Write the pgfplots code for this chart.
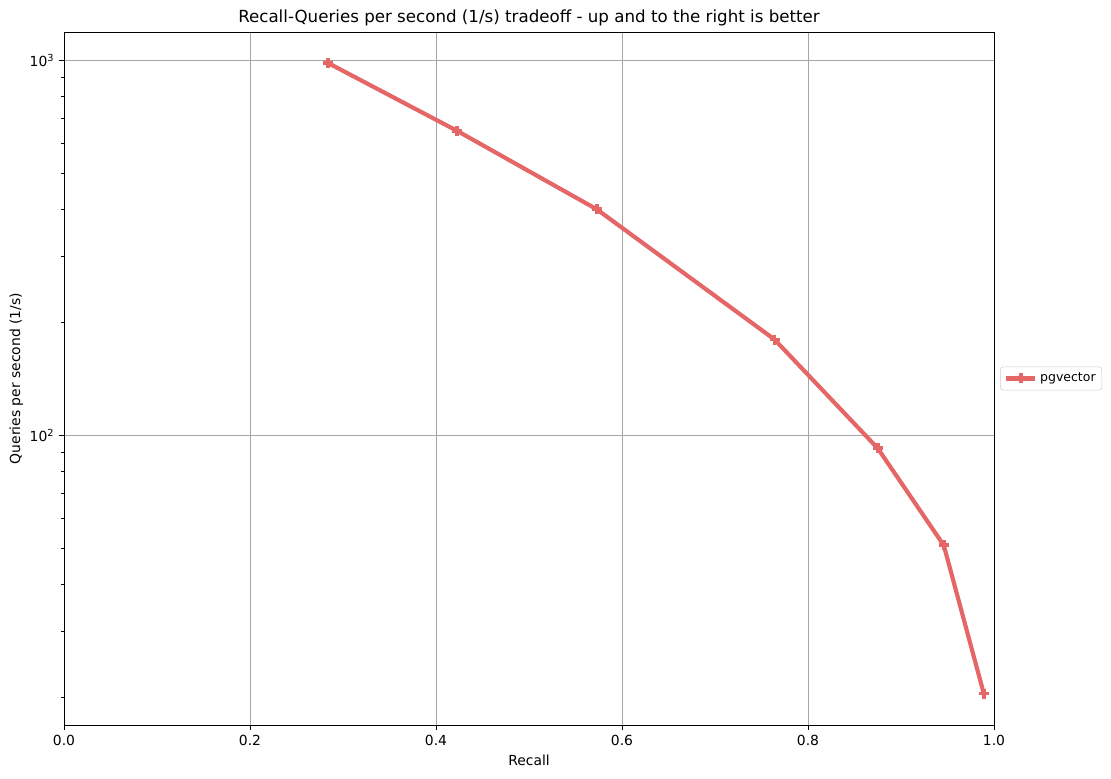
\documentclass[border=0pt]{standalone}
\usepackage{pgfplots}
\pgfplotsset{compat=1.18}
\usepackage{fontspec}
\setmainfont{DejaVu Sans}
\definecolor{pgred}{HTML}{E46666}
\begin{document}
\begin{tikzpicture}[x=1pt,y=1pt]
\begin{axis}[
  scale only axis,
  width=669.6pt, height=498.96pt,
  at={(0,0)}, anchor=south west,
  xmin=0, xmax=1,
  ymode=log, ymin=16.9, ymax=1188,
  xtick={0,0.2,0.4,0.6,0.8,1.0},
  xticklabels={0.0,0.2,0.4,0.6,0.8,1.0},
  ytick={100,1000},
  yticklabels={10\textsuperscript{2},10\textsuperscript{3}},
  minor ytick={20,30,40,50,60,70,80,90,200,300,400,500,600,700,800,900},
  grid=major,
  major grid style={color=black!35, line width=0.6pt},
  axis line style={line width=0.6pt},
  tick style={color=black, line width=0.6pt},
  major tick length=3.5pt, minor tick length=2pt,
  tick align=outside,
  xtick pos=bottom, ytick pos=left,
  ticklabel style={font=\fontsize{10}{12}\selectfont},
  /pgf/number format/assume math mode=true,
  title={Recall-Queries per second (1/s) tradeoff - up and to the right is better},
  title style={font=\fontsize{12}{14}\selectfont, yshift=-5.5pt},
  xlabel={Recall},
  ylabel={Queries per second (1/s)},
  ylabel shift=-2pt,
  label style={font=\fontsize{10}{12}\selectfont},
  legend style={at={(axis description cs:1,0.5)}, anchor=west, xshift=4.5pt,
    font=\fontsize{9}{11}\selectfont, draw=black!20, rounded corners=2pt,
    inner sep=2.5pt},
  legend cell align=left,
  legend image code/.code={\draw[mark repeat=2, mark phase=2]
    plot coordinates {(0pt,0pt) (10.5pt,0pt) (21pt,0pt)};},
]
\addplot[color=pgred, line width=3pt, mark=+, mark size=3.6pt,
  mark options={line width=2.8pt, solid}] coordinates {
  (0.284, 982)
  (0.423, 647)
  (0.573, 400)
  (0.764, 180)
  (0.875, 92.3)
  (0.946, 50.9)
  (0.989, 20.5)
};
\addlegendentry{pgvector}
\end{axis}
\pgfresetboundingbox
\path[use as bounding box] (-46.08pt,-38.16pt) rectangle (753.84pt,522pt);
\end{tikzpicture}
\end{document}
